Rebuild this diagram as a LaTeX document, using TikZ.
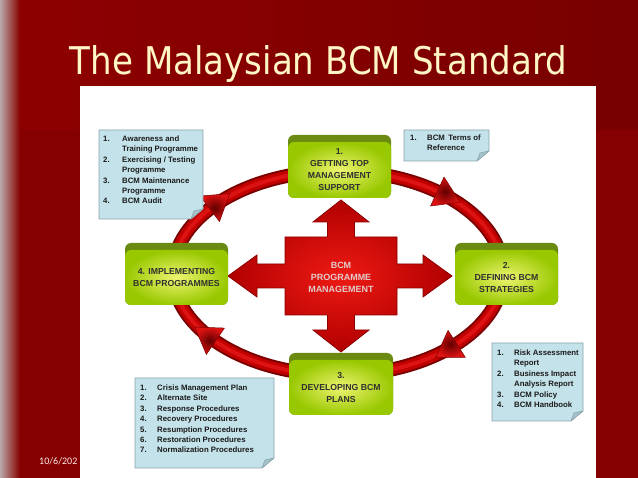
\documentclass[tikz,border=0pt]{standalone}
\usepackage{fontspec}
\setmainfont{Liberation Sans}
\newfontfamily\titlefont{DejaVu Sans}
\newfontfamily\datefont{Carlito}
\definecolor{bgred}{HTML}{850000}
\definecolor{bgtopL}{HTML}{8E0000}
\definecolor{bgtopR}{HTML}{780000}
\definecolor{edgegray}{HTML}{BBA8A8}
\definecolor{titlecol}{HTML}{FFF6C6}
\definecolor{ringdark}{HTML}{7A0000}
\definecolor{ringmid}{HTML}{C20000}
\definecolor{ringlight}{HTML}{DD1212}
\definecolor{crossin}{HTML}{EE1A14}
\definecolor{crossout}{HTML}{B00000}
\definecolor{crossline}{HTML}{8A0000}
\definecolor{gtop}{HTML}{6A8A12}
\definecolor{gin}{HTML}{EEF470}
\definecolor{gout}{HTML}{98C800}
\definecolor{boxtextcol}{HTML}{303030}
\definecolor{notefill}{HTML}{C4E2EA}
\definecolor{noteline}{HTML}{8AA4AC}
\definecolor{notefold}{HTML}{A6C2CA}
\definecolor{notetext}{HTML}{1A1A1A}
\definecolor{centertext}{HTML}{E2CCCC}
\tikzset{
  boxtext/.style={font=\bfseries\fontsize{8.7}{12}\selectfont, text=boxtextcol, align=center, inner sep=0pt},
  notetxt/.style={font=\bfseries\fontsize{7.8}{10.4}\selectfont, text=notetext, anchor=north west, inner sep=0pt},
  notebody/.style={fill=notefill, draw=noteline, line width=0.6pt},
  notecorner/.style={fill=notefold, draw=noteline, line width=0.6pt, line join=round},
}
\newcommand\gbox[6]{%
  \fill[gtop, rounded corners=6pt] ({#2},{#3}) rectangle ({#4},{#5});
  \shade[inner color=gin, outer color=gout, rounded corners=6pt] ({#2},{#3+7}) rectangle ({#4},{#5});
  \node[boxtext] (#1) at ({(#2+#4)/2},{(#3+7+#5)/2}) {#6};
}
\newcommand\nbox[4]{%
  \path[notebody] ({#1},{#2}) -- ({#3},{#2}) -- ({#3},{#4-10}) -- ({#3-12},{#4}) -- ({#1},{#4}) -- cycle;
  \path[notecorner] ({#3},{#4-10}) -- ({#3-12},{#4}) -- ({#3-9},{#4-8}) -- cycle;
}
\begin{document}
\begin{tikzpicture}[x=1pt,y=-1pt]
\useasboundingbox (0,0) rectangle (638,478);
% background
\fill[bgred] (0,0) rectangle (638,478);
\shade[left color=bgtopL, right color=bgtopR] (0,0) rectangle (638,130);
\shade[left color=edgegray, right color=bgred] (0,0) rectangle (20,478);
% title
\node[font=\titlefont, text=titlecol, anchor=base, inner sep=0pt] (title) at (318.5,74.5) {\resizebox{497pt}{29pt}{The Malaysian BCM Standard}};
% date
\node[font=\datefont\fontsize{10}{12}\selectfont, text=white!92!red, anchor=west, inner sep=0pt] (date) at (39,461) {10/6/202};
% white panel
\fill[white] (80,86) rectangle (596,478);
% ring
\draw[ringdark, line width=14pt] (338,273) ellipse [x radius=165pt, y radius=102pt];
\draw[ringmid, line width=10pt] (338,273) ellipse [x radius=165pt, y radius=102pt];
\draw[ringlight, line width=4pt] (338,273) ellipse [x radius=165pt, y radius=102pt];
% arrowheads on ring (clockwise)
\foreach \t in {141,53,-44,-138}{
  \pgfmathsetmacro\px{338+165*cos(\t)}
  \pgfmathsetmacro\py{273-102*sin(\t)}
  \pgfmathsetmacro\tx{16.5*sin(\t)}
  \pgfmathsetmacro\ty{10.2*cos(\t)}
  \pgfmathsetmacro\tl{sqrt(\tx*\tx+\ty*\ty)}
  \pgfmathsetmacro\ux{\tx/\tl}
  \pgfmathsetmacro\uy{\ty/\tl}
  \coordinate (tip) at ({\px+25*\ux},{\py+25*\uy});
  \coordinate (bA) at ({\px-16*\uy},{\py+16*\ux});
  \coordinate (bB) at ({\px+16*\uy},{\py-16*\ux});
  \shade[inner color=ringdark!80!black, outer color=ringlight, draw=ringdark, line width=0.5pt, line join=round] (bA) -- (tip) -- (bB) -- cycle;
}
% central cross
\shade[inner color=crossin, outer color=crossout, draw=crossline, line width=0.8pt, line join=miter]
  (341,200) -- (369,222) -- (354.5,222) -- (354.5,237) -- (397,237) -- (397,264) -- (423,264) -- (423,255)
  -- (452,276) -- (423,297) -- (423,288) -- (397,288) -- (397,315) -- (354.5,315) -- (354.5,330) -- (369,330)
  -- (341,352) -- (313,330) -- (327.5,330) -- (327.5,315) -- (285,315) -- (285,288) -- (257,288) -- (257,297)
  -- (228,276) -- (257,255) -- (257,264) -- (285,264) -- (285,237) -- (327.5,237) -- (327.5,222) -- (313,222) -- cycle;
\node[font=\bfseries\fontsize{9}{12}\selectfont, text=centertext, align=center, inner sep=0pt] (centre) at (341,277) {BCM\\PROGRAMME\\MANAGEMENT};
% green boxes
\gbox{s1}{288}{135}{391}{198}{1.\\GETTING TOP\\MANAGEMENT\\SUPPORT}
\gbox{s4}{125}{243}{228}{305}{4. IMPLEMENTING\\BCM PROGRAMMES}
\gbox{s2}{455}{243}{558}{305}{2.\\DEFINING BCM\\STRATEGIES}
\gbox{s3}{289}{353}{393}{415}{3.\\DEVELOPING BCM\\PLANS}
% note boxes
\nbox{99}{130}{203}{219}
\node[notetxt] (n4) at (103,134) {\begin{tabular}{@{}p{19pt}@{}l@{}}
1. & Awareness and\\ & Training Programme\\ 2. & Exercising / Testing\\ & Programme\\
3. & BCM Maintenance\\ & Programme\\ 4. & BCM Audit\end{tabular}};
\nbox{404}{130}{489}{161}
\node[notetxt] (n1) at (410,133) {\begin{tabular}{@{}p{17pt}@{}l@{}}
1. & BCM \,Terms of\\ & Reference\end{tabular}};
\nbox{492}{343}{583}{421}
\node[notetxt] (n2) at (497,348) {\begin{tabular}{@{}p{17pt}@{}l@{}}
1. & Risk Assessment\\ & Report\\ 2. & Business Impact\\ & Analysis Report\\
3. & BCM Policy\\ 4. & BCM Handbook\end{tabular}};
\nbox{135}{378}{274}{468}
\node[notetxt] (n3) at (140,383) {\begin{tabular}{@{}p{17pt}@{}l@{}}
1. & Crisis Management Plan\\ 2. & Alternate Site\\ 3. & Response Procedures\\
4. & Recovery Procedures\\ 5. & Resumption Procedures\\ 6. & Restoration Procedures\\
7. & Normalization Procedures\end{tabular}};
\end{tikzpicture}
\end{document}
